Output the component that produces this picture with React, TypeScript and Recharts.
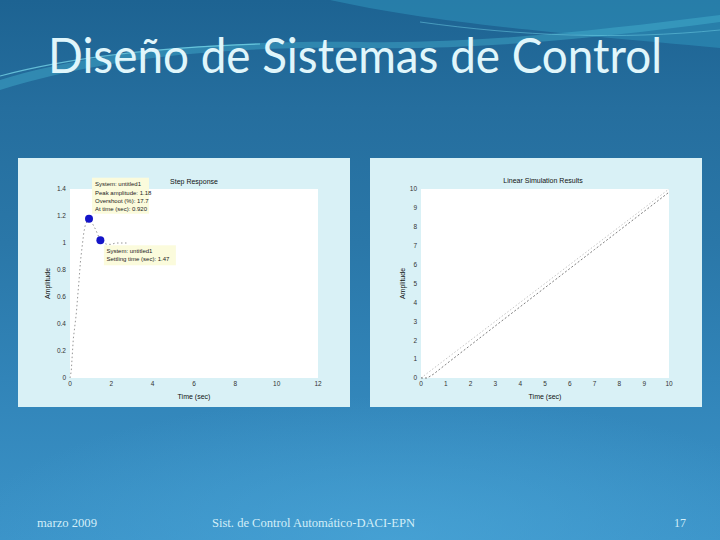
import React from 'react';
import { LineChart, Line, XAxis, YAxis, CartesianGrid, ReferenceDot } from 'recharts';

// ---- Step response (left chart) ----
const STEP_TIME = [0, 0.06, 0.16, 0.3, 0.43, 0.51, 0.6, 0.67, 0.75, 0.92, 1.0, 1.1, 1.24, 1.35, 1.47, 1.6, 1.8, 2.0, 2.2, 2.4, 2.6, 2.8];
const STEP_AMP = [0, 0.05, 0.29, 0.47, 0.71, 0.87, 0.99, 1.08, 1.14, 1.18, 1.17, 1.14, 1.1, 1.06, 1.02, 1.0, 0.99, 0.99, 1.0, 1.0, 1.0, 1.0];
const STEP_X_TICKS = [0, 2, 4, 6, 8, 10, 12];
const STEP_Y_TICKS = [0, 0.2, 0.4, 0.6, 0.8, 1, 1.2, 1.4];
const PEAK_TIME = 0.92;
const PEAK_AMP = 1.18;
const PEAK_LINES = ['System: untitled1', 'Peak amplitude: 1.18', 'Overshoot (%): 17.7', 'At time (sec): 0.920'];
const SETTLE_TIME = 1.47;
const SETTLE_AMP = 1.02;
const SETTLE_LINES = ['System: untitled1', 'Settling time (sec): 1.47'];

// ---- Linear simulation (right chart) ----
const RAMP_TIME = [0, 0.25, 0.5, 1, 2, 3, 4, 5, 6, 7, 8, 9, 10];
const RAMP_INPUT = [0, 0.25, 0.5, 1, 2, 3, 4, 5, 6, 7, 8, 9, 10];
const RAMP_OUTPUT = [0, 0, 0.2, 0.72, 1.74, 2.76, 3.77, 4.78, 5.79, 6.8, 7.81, 8.82, 9.83];
const RAMP_TICKS = [0, 1, 2, 3, 4, 5, 6, 7, 8, 9, 10];

const stepData = STEP_TIME.map((t, i) => ({ t, amp: STEP_AMP[i] }));
const rampData = RAMP_TIME.map((t, i) => ({ t, input: RAMP_INPUT[i], output: RAMP_OUTPUT[i] }));

const AX_FONT = 'Liberation Sans, Arial, sans-serif';
const tickStyle = { fontSize: 6.5, fill: '#333', fontFamily: AX_FONT };
const PANEL_BG = '#d9f1f6';

const PeakMarker = (props: any) => {
  const { cx, cy } = props;
  return (
    <g>
      <circle cx={cx} cy={cy} r={4} fill="#1414c8" />
      <rect x={cx + 3} y={cy - 41} width={57} height={36} fill="#fbfbdc" />
      {PEAK_LINES.map((s, i) => (
        <text key={i} x={cx + 6} y={cy - 32.5 + i * 8.3} fontSize={6} fontFamily={AX_FONT} fill="#222">{s}</text>
      ))}
    </g>
  );
};

const SettleMarker = (props: any) => {
  const { cx, cy } = props;
  return (
    <g>
      <circle cx={cx} cy={cy} r={4} fill="#1414c8" />
      <rect x={cx + 3.5} y={cy + 5} width={72} height={20} fill="#fbfbdc" />
      {SETTLE_LINES.map((s, i) => (
        <text key={i} x={cx + 6} y={cy + 12.5 + i * 8.4} fontSize={6} fontFamily={AX_FONT} fill="#222">{s}</text>
      ))}
    </g>
  );
};

const Title = ({ text, cx, cy }: { text: string; cx: number; cy: number }) => (
  <div
    style={{
      position: 'absolute',
      left: cx - 80,
      width: 160,
      top: cy - 5,
      textAlign: 'center',
      fontFamily: AX_FONT,
      fontSize: 7,
      lineHeight: '10px',
      color: '#111',
    }}
  >
    {text}
  </div>
);

const panelStyle = (left: number): React.CSSProperties => ({
  position: 'absolute',
  left,
  top: 158,
  width: 332,
  height: 249,
  background: PANEL_BG,
});

export default function App() {
  return (
    <div
      style={{
        position: 'absolute',
        left: 0,
        top: 0,
        width: 720,
        height: 540,
        overflow: 'hidden',
        background: 'linear-gradient(to bottom, #1d6392 0%, #256e9e 20%, #2a77a8 45%, #3184b8 70%, #3b93c8 100%)',
      }}
    >
      <svg width={720} height={540} style={{ position: 'absolute', left: 0, top: 0 }}>
        <defs>
          <radialGradient id="glow" cx="0.55" cy="1" r="0.6">
            <stop offset="0" stopColor="#4aa6d8" stopOpacity={0.7} />
            <stop offset="1" stopColor="#4aa6d8" stopOpacity={0} />
          </radialGradient>
        </defs>
        <rect x={0} y={300} width={720} height={240} fill="url(#glow)" />
        <path d="M330,0 C420,20 520,30 720,48 L720,0 Z" fill="#2f93bb" opacity={0.55} />
        <path d="M0,80 C80,55 200,40 360,42 C480,44 600,30 720,15 L720,22 C600,38 480,50 360,48 C200,46 90,62 0,90 Z" fill="#4cc3dc" opacity={0.35} />
        <path d="M0,76 C60,60 140,48 260,44" stroke="#7fe0ef" strokeWidth={1.2} fill="none" opacity={0.7} />
        <path d="M420,22 C520,36 620,40 720,30" stroke="#6fd0e6" strokeWidth={1} fill="none" opacity={0.5} />
        <text x={48} y={73} fontSize={49} fontFamily="Lato, 'Open Sans', sans-serif" fill="#e0f6fb" textLength={614} lengthAdjust="spacingAndGlyphs">
          Diseño de Sistemas de Control
        </text>
        <text x={37} y={527} fontSize={12} fontFamily="'Liberation Serif', serif" fill="#d3eef8" textLength={60} lengthAdjust="spacingAndGlyphs">
          marzo 2009
        </text>
        <text x={212} y={527} fontSize={12} fontFamily="'Liberation Serif', serif" fill="#d3eef8" textLength={203} lengthAdjust="spacingAndGlyphs">
          Sist. de Control Automático-DACI-EPN
        </text>
        <text x={674} y={527} fontSize={12} fontFamily="'Liberation Serif', serif" fill="#d3eef8">
          17
        </text>
      </svg>

      <div style={panelStyle(18)}>
        <LineChart width={332} height={249} data={stepData} margin={{ top: 31, right: 32, left: 0, bottom: 0 }}>
          <CartesianGrid fill="#ffffff" horizontal={false} vertical={false} />
          <XAxis
            dataKey="t"
            type="number"
            domain={[0, 12]}
            ticks={STEP_X_TICKS}
            axisLine={false}
            tickLine={false}
            tickSize={0}
            tickMargin={3}
            height={29}
            tick={tickStyle}
            label={{ value: 'Time (sec)', position: 'insideBottom', offset: 8, fontSize: 7, fill: '#111', fontFamily: AX_FONT }}
          />
          <YAxis
            type="number"
            domain={[0, 1.4]}
            ticks={STEP_Y_TICKS}
            axisLine={false}
            tickLine={false}
            tickSize={0}
            tickMargin={4}
            width={52}
            tick={tickStyle}
            label={{ value: 'Amplitude', angle: -90, position: 'insideLeft', offset: 30, fontSize: 7, fill: '#111', fontFamily: AX_FONT, style: { textAnchor: 'middle' } }}
          />
          <Line type="linear" dataKey="amp" stroke="#8a8a8a" strokeWidth={0.9} strokeDasharray="1.5 2.5" dot={false} isAnimationActive={false} />
          <ReferenceDot x={PEAK_TIME} y={PEAK_AMP} r={4} ifOverflow="visible" shape={PeakMarker} />
          <ReferenceDot x={SETTLE_TIME} y={SETTLE_AMP} r={4} ifOverflow="visible" shape={SettleMarker} />
        </LineChart>
        <Title text="Step Response" cx={176} cy={24} />
      </div>

      <div style={panelStyle(370)}>
        <LineChart width={332} height={249} data={rampData} margin={{ top: 31, right: 33, left: 0, bottom: 0 }}>
          <CartesianGrid fill="#ffffff" horizontal={false} vertical={false} />
          <XAxis
            dataKey="t"
            type="number"
            domain={[0, 10]}
            ticks={RAMP_TICKS}
            axisLine={false}
            tickLine={false}
            tickSize={0}
            tickMargin={3}
            height={29}
            tick={tickStyle}
            label={{ value: 'Time (sec)', position: 'insideBottom', offset: 8, fontSize: 7, fill: '#111', fontFamily: AX_FONT }}
          />
          <YAxis
            type="number"
            domain={[0, 10]}
            ticks={RAMP_TICKS}
            axisLine={false}
            tickLine={false}
            tickSize={0}
            tickMargin={4}
            width={51}
            tick={tickStyle}
            label={{ value: 'Amplitude', angle: -90, position: 'insideLeft', offset: 33, fontSize: 7, fill: '#111', fontFamily: AX_FONT, style: { textAnchor: 'middle' } }}
          />
          <Line type="linear" dataKey="input" stroke="#bdbdbd" strokeWidth={0.9} strokeDasharray="1.5 2" dot={false} isAnimationActive={false} />
          <Line type="linear" dataKey="output" stroke="#6f6f6f" strokeWidth={0.9} strokeDasharray="2 2" dot={false} isAnimationActive={false} />
        </LineChart>
        <Title text="Linear Simulation Results" cx={173} cy={23} />
      </div>
    </div>
  );
}
